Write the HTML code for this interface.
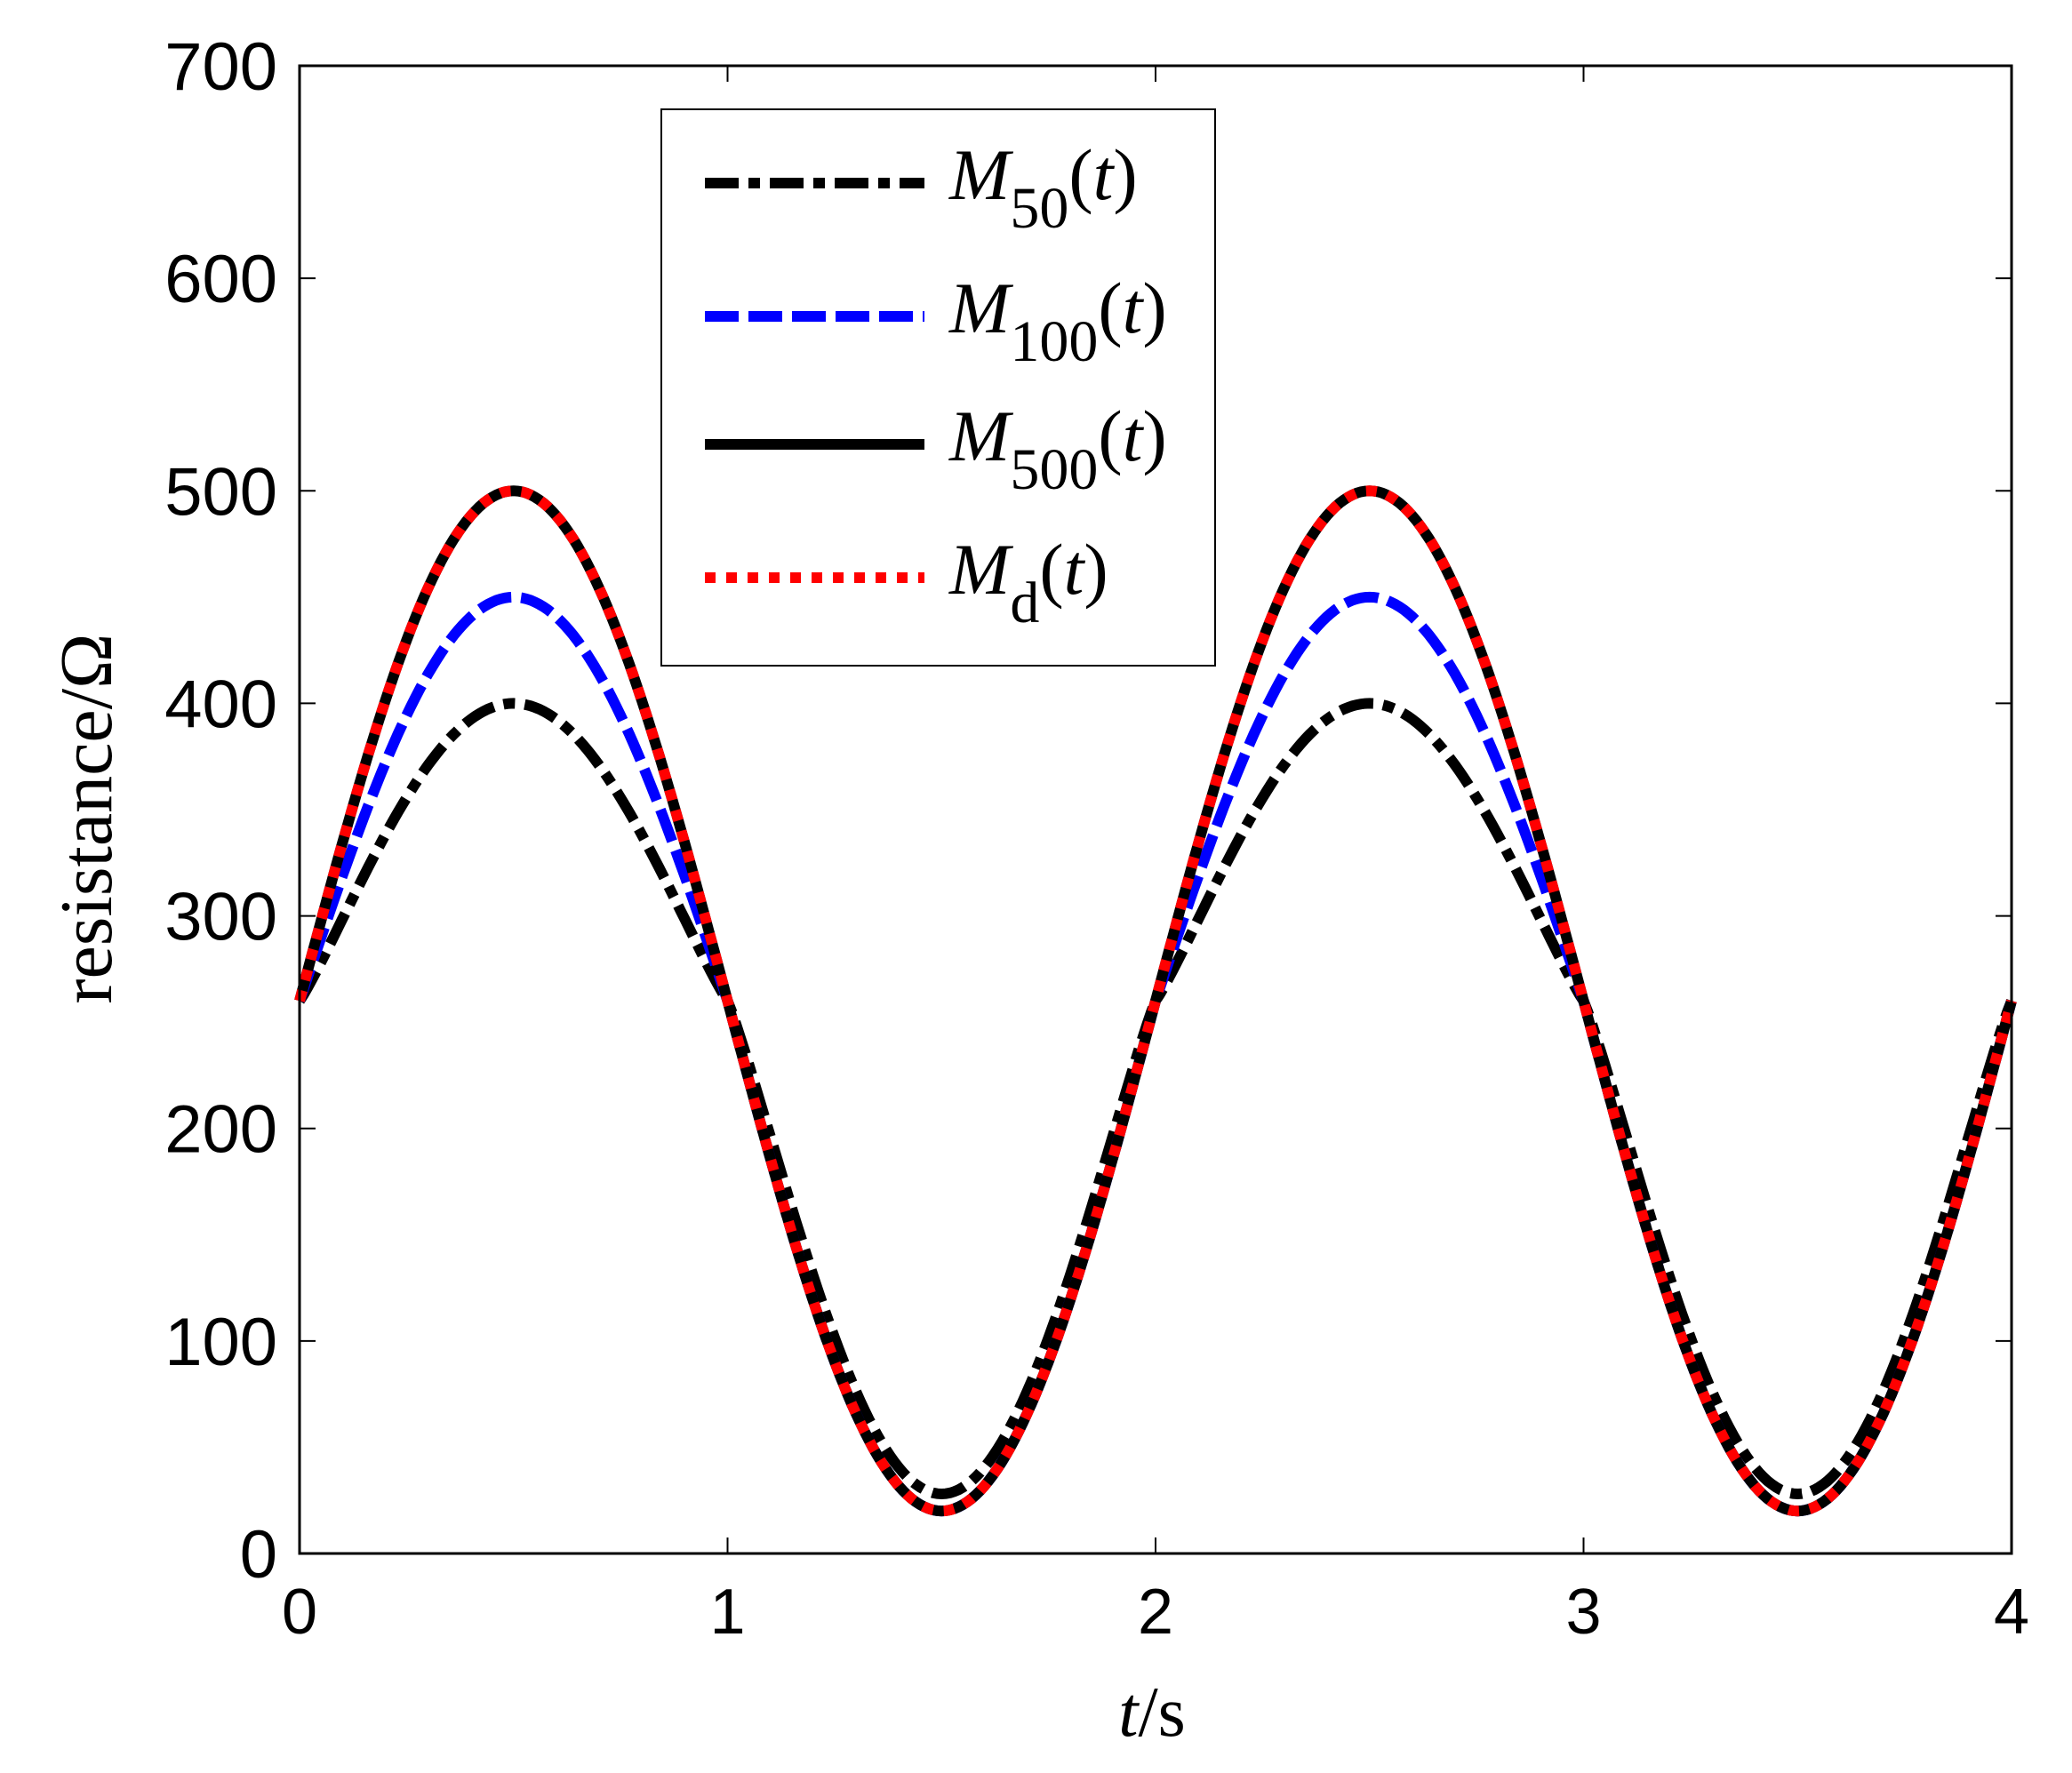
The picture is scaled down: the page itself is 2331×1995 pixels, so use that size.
<!DOCTYPE html>
<html><head><meta charset="utf-8"><style>html,body{margin:0;padding:0;background:#fff}svg{display:block}</style></head>
<body>
<svg id="s" width="2331" height="1995" viewBox="0 0 2331 1995" xmlns="http://www.w3.org/2000/svg">
<rect width="2331" height="1995" fill="#fff"/>
<g id="curves"></g>
<rect x="337" y="74" width="1926" height="1674" fill="none" stroke="#000" stroke-width="3"/>
<g id="ticks" stroke="#000" stroke-width="2"></g>
<g font-family="Liberation Sans, Arial, sans-serif" font-size="76" fill="#000" text-anchor="end" id="ylab"></g>
<g font-family="Liberation Sans, Arial, sans-serif" font-size="72" fill="#000" text-anchor="middle" id="xlab"></g>
<text x="0" y="0" transform="translate(125,921) rotate(-90)" font-family="Liberation Serif, Times New Roman, serif" font-size="84" text-anchor="middle">resistance/Ω</text>
<text x="1296" y="1953" font-family="Liberation Serif, Times New Roman, serif" font-size="80" text-anchor="middle"><tspan font-style="italic">t</tspan>/s</text>
<rect x="744" y="123" width="623" height="626" fill="#fff" stroke="#000" stroke-width="2"/>
<line x1="793" y1="206" x2="1040" y2="206" stroke="#000" stroke-width="12" stroke-dasharray="38,11,13,11"/>
<line x1="793" y1="356" x2="1040" y2="356" stroke="#00f" stroke-width="12" stroke-dasharray="38,11"/>
<line x1="793" y1="500" x2="1040" y2="500" stroke="#000" stroke-width="12"/>
<line x1="793" y1="650" x2="1040" y2="650" stroke="#f00" stroke-width="12" stroke-dasharray="12,12"/>
<g font-family="Liberation Serif, Times New Roman, serif" font-size="82" fill="#000">
<text x="1068" y="224"><tspan font-style="italic">M</tspan><tspan font-size="66" dy="32">50</tspan><tspan dy="-32">(</tspan><tspan font-style="italic">t</tspan>)</text>
<text x="1068" y="374"><tspan font-style="italic">M</tspan><tspan font-size="66" dy="32">100</tspan><tspan dy="-32">(</tspan><tspan font-style="italic">t</tspan>)</text>
<text x="1068" y="518"><tspan font-style="italic">M</tspan><tspan font-size="66" dy="32">500</tspan><tspan dy="-32">(</tspan><tspan font-style="italic">t</tspan>)</text>
<text x="1068" y="668"><tspan font-style="italic">M</tspan><tspan font-size="66" dy="32">d</tspan><tspan dy="-32">(</tspan><tspan font-style="italic">t</tspan>)</text>
</g>
</svg>
<script>
(function(){
var L=337,R=2263,T=74,B=1748,NS="http://www.w3.org/2000/svg";
function X(t){return L+(R-L)*t/4}
function Y(v){return B-(B-T)*v/700}
function el(n,a,p){var e=document.createElementNS(NS,n);for(var k in a)e.setAttribute(k,a[k]);p.appendChild(e);return e}
function path(f){var d="";for(var i=0;i<=400;i++){var t=4*i/400;d+=(i?"L":"M")+X(t).toFixed(1)+" "+Y(f(t)).toFixed(1)}return d}
function mk(up,dn,p){return function(t){var s=Math.sin(Math.PI*t);return s>0?260+up*Math.pow(s,p):260-dn*Math.pow(-s,p)}}
var g=document.getElementById("curves");
el("path",{d:path(mk(140,232,1.1)),fill:"none",stroke:"#000","stroke-width":12,"stroke-dasharray":"38,11,13,11"},g);
el("path",{d:path(mk(190,240,1)),fill:"none",stroke:"#00f","stroke-width":12,"stroke-dasharray":"38,11"},g);
el("path",{d:path(mk(240,240,1)),fill:"none",stroke:"#000","stroke-width":12},g);
el("path",{d:path(mk(240,240,1)),fill:"none",stroke:"#f00","stroke-width":12,"stroke-dasharray":"12,12"},g);
var tk=document.getElementById("ticks"),yl=document.getElementById("ylab"),xl=document.getElementById("xlab");
for(var v=0;v<=700;v+=100){var y=Y(v);
 if(v>0&&v<700){el("line",{x1:L,y1:y,x2:L+18,y2:y},tk);el("line",{x1:R,y1:y,x2:R-18,y2:y},tk);}
 var t=el("text",{x:312,y:y+27},yl);t.textContent=v;}
for(var s=0;s<=4;s++){var x=X(s);
 if(s>0&&s<4){el("line",{x1:x,y1:B,x2:x,y2:B-18},tk);el("line",{x1:x,y1:T,x2:x,y2:T+18},tk);}
 var t2=el("text",{x:x,y:1838},xl);t2.textContent=s;}
})();
</script>
</body></html>
